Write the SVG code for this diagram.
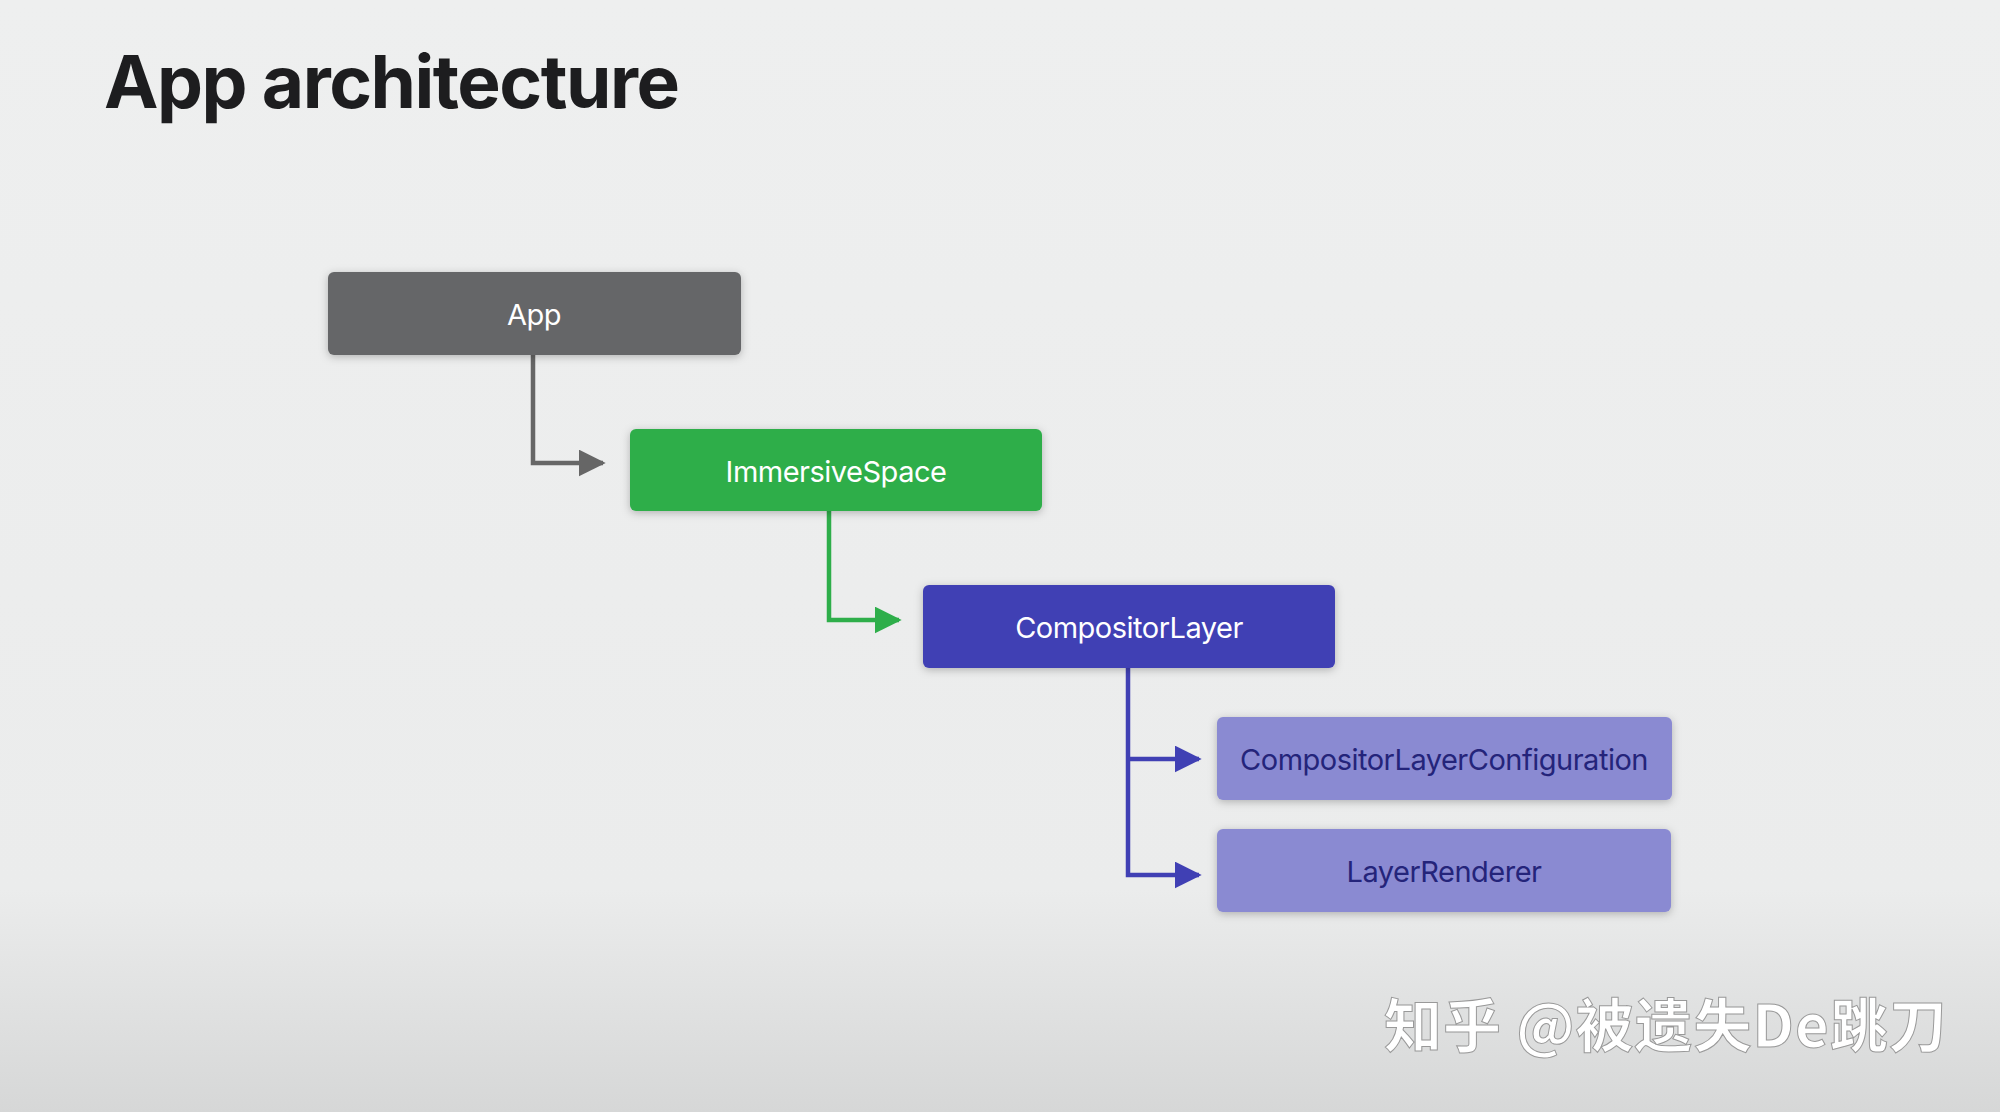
<svg xmlns="http://www.w3.org/2000/svg" width="2000" height="1112" viewBox="0 0 2000 1112">
<defs>
<linearGradient id="bg" x1="0" y1="0" x2="0" y2="1">
<stop offset="0" stop-color="#eeefef"/><stop offset="0.8" stop-color="#ebecec"/><stop offset="1" stop-color="#d6d7d7"/>
</linearGradient>
<marker id="ag" viewBox="0 0 10 10" refX="9" refY="5" markerWidth="6" markerHeight="6" orient="auto"><path d="M0,0L10,5L0,10z" fill="#666"/></marker>
<marker id="agr" viewBox="0 0 10 10" refX="9" refY="5" markerWidth="6" markerHeight="6" orient="auto"><path d="M0,0L10,5L0,10z" fill="#2eae4a"/></marker>
<marker id="ab" viewBox="0 0 10 10" refX="9" refY="5" markerWidth="6" markerHeight="6" orient="auto"><path d="M0,0L10,5L0,10z" fill="#4040b4"/></marker>
<filter id="sh" x="-20%" y="-30%" width="140%" height="160%"><feDropShadow dx="0" dy="2" stdDeviation="4" flood-opacity="0.25"/></filter>
</defs>
<style>
.t{font-family:Inter,"Liberation Sans",sans-serif;font-size:29px;text-anchor:middle;dominant-baseline:central;letter-spacing:-0.5px}
.c{fill:none;stroke-width:4.5}
</style>
<rect width="2000" height="1112" fill="url(#bg)"/>
<text x="104" y="108" font-family="Inter,'Liberation Sans',sans-serif" font-weight="bold" font-size="73" fill="#1d1d1f" letter-spacing="-1.5">App architecture</text>
<g id="connectors">
<path class="c" stroke="#666" d="M533,355V463H603" marker-end="url(#ag)"/>
<path class="c" stroke="#2eae4a" d="M829,511V620H899" marker-end="url(#agr)"/>
<path class="c" stroke="#4040b4" d="M1128,668V875H1199" marker-end="url(#ab)"/>
<path class="c" stroke="#4040b4" d="M1128,759H1199" marker-end="url(#ab)"/>
</g>
<g id="app"><rect x="328" y="272" width="413" height="83" rx="6" fill="#656667" filter="url(#sh)"/><text class="t" x="534" y="314" fill="#fff">App</text></g>
<g id="immersive"><rect x="630" y="429" width="412" height="82" rx="6" fill="#2eae4a" filter="url(#sh)"/><text class="t" x="836" y="471" fill="#fff">ImmersiveSpace</text></g>
<g id="compositor"><rect x="923" y="585" width="412" height="83" rx="6" fill="#4040b4" filter="url(#sh)"/><text class="t" x="1129" y="627" fill="#fff">CompositorLayer</text></g>
<g id="config"><rect x="1217" y="717" width="455" height="83" rx="6" fill="#8a8ad2" filter="url(#sh)"/><text class="t" x="1444" y="759" fill="#24247a">CompositorLayerConfiguration</text></g>
<g id="renderer"><rect x="1217" y="829" width="454" height="83" rx="6" fill="#8a8ad2" filter="url(#sh)"/><text class="t" x="1444" y="871" fill="#24247a">LayerRenderer</text></g>
<text x="1384" y="1047" font-family="'Noto Sans CJK SC','Liberation Sans',sans-serif" font-size="58" font-weight="bold" fill="#fff" stroke="#999" stroke-width="1" letter-spacing="1">知乎 @被遗失De跳刀</text>
</svg>
